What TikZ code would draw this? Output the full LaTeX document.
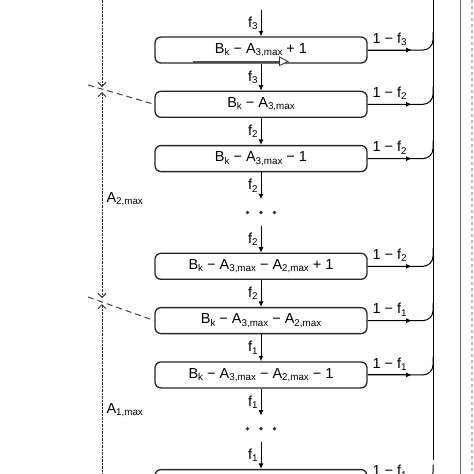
\documentclass[tikz,border=0pt]{standalone}
\usepackage{fontspec}
\setmainfont{Liberation Sans}
\usetikzlibrary{positioning,chains,arrows.meta}
\tikzset{
  >={Latex[length=5.5pt,width=5pt]},
  statebox/.style={
    rectangle,
    rounded corners=6pt,
    draw=black!85, line width=1.3pt,
    minimum width=212pt,
    minimum height=26pt,
    inner sep=0pt,
    text centered,
    on chain},
  gapnode/.style={
    minimum width=212pt,
    minimum height=26pt,
    inner sep=0pt,
    on chain},
  flow/.style={draw, ->, line width=1pt},
  tick/.style={draw, dash pattern=on 6pt off 4pt, black!75, line width=1pt},
  dimen/.style={draw, dash pattern=on 2.5pt off 1pt, black!80, line width=1pt},
  barb/.tip={Straight Barb[length=4pt,width=8pt]}
}
\newcommand{\sub}[1]{\raisebox{-2.2pt}{\fontsize{9.8pt}{10pt}\selectfont #1}}
\newcommand{\Am}[1]{A\sub{#1,max}}
\newcommand{\Bk}{B\sub{k}}
\newcommand{\fr}[1]{f\sub{#1}}

\begin{document}
\begin{tikzpicture}
  [x=1pt, y=-1pt,
  node distance=27pt,
  start chain=going below,
  every node/.style={font=\fontsize{14.5pt}{16pt}\selectfont, text=black}]

  \useasboundingbox (0,0) rectangle (474,474);
  \clip (0,0) rectangle (474,474);

  % the column of states
  \node[statebox] (b1) at (261,50) {\Bk{} − \Am{3} + 1};
  \node[statebox] (b2) {\Bk{} − \Am{3}};
  \node[statebox] (b3) {\Bk{} − \Am{3} − 1};
  \node[gapnode] (d1) {};
  \node[statebox] (b4) {\Bk{} − \Am{3} − \Am{2} + 1};
  \node[statebox] (b5) {\Bk{} − \Am{3} − \Am{2}};
  \node[statebox] (b6) {\Bk{} − \Am{3} − \Am{2} − 1};
  \node[gapnode] (d2) {};
  \node[statebox] (b7) {\Bk{} − \Am{3} − \Am{2} − \Am{1} + 1};

  \foreach \d in {d1,d2}
    \foreach \s in {-13.5,0,13.5}
      \fill[black!80] (\d) ++(\s,0) circle (1.8);

  % downward transitions
  \coordinate (in) at (261,10);
  \foreach \a/\b/\f in {in/b1/3, b1/b2/3, b2/b3/2, b3/d1/2, d1/b4/2,
                        b4/b5/2, b5/b6/1, b6/d2/1, d2/b7/1}
    \draw[flow] (\a) -- node[left, inner sep=3pt] {\fr{\f}} (\b);

  % exits to the common line
  \coordinate (bus) at (433,0);
  \draw[line width=1pt] (bus) -- (433,460);
  \foreach \b/\f in {b1/3, b2/2, b3/2, b4/2, b5/1, b6/1, b7/1} {
    \draw[line width=1pt, rounded corners=10pt]
      (\b.east) -- (\b.east -| bus) -- ++(0,-18);
    \draw[flow] (\b.east) -- ++(44,0)
      node[midway, above=3pt, inner sep=1pt] {1 − \fr{\f}};
  }

  % side lines
  \draw[black!60, line width=0.9pt] (460,0) -- (460,474);
  \draw[black!25, dashed, line width=1.5pt] (472,0) -- (472,474);

  % dimension on the left
  \coordinate (t1) at (88,85);
  \coordinate (t2) at (88,297);
  \draw[tick] (t1) -- (b2.west);
  \draw[tick] (t2) -- (b5.west);
  \draw[dimen, -barb] (102,0) -- (102,87);
  \draw[dimen, barb-barb] (102,92) -- node[pos=0.52, right, inner sep=4pt] (a2) {\Am{2}} (102,298);
  \draw[dimen, barb-] (102,304) -- (102,516) node[pos=0.5, right, inner sep=4pt] (a1) {\Am{1}};

  % stray mark over the first box
  \draw[black!70, line width=1.8pt] (193,62) -- (280,62);
  \draw[black!80, line width=0.8pt, fill=white] (279.5,57) -- (288,61.5) -- (279.5,65.5) -- cycle;
\end{tikzpicture}
\end{document}
